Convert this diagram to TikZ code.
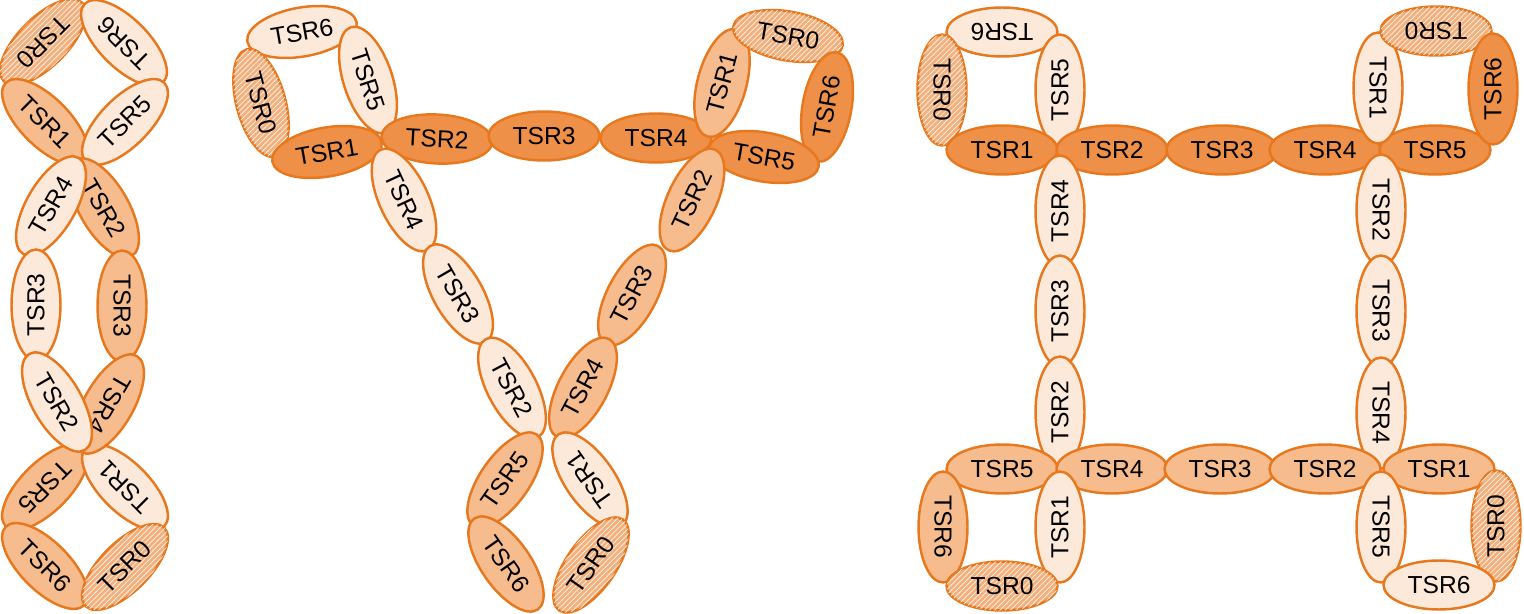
\documentclass[tikz,border=0pt]{standalone}
\usepackage{fontspec}
\setmainfont{Liberation Sans}
\usetikzlibrary{shapes.geometric,patterns}
\definecolor{lt}{HTML}{FCE9DA}
\definecolor{md}{HTML}{F6BC8E}
\definecolor{dk}{HTML}{EE9048}
\definecolor{ln}{HTML}{E8781E}
\definecolor{ht}{HTML}{F4B07C}
\tikzset{
  tsrbase/.style={ellipse, draw=ln, line width=1.4pt, minimum width=2.22cm, minimum height=0.98cm, inner sep=0pt, font=\fontsize{14}{16}\selectfont},
  lo/.style={tsrbase, fill=lt},
  me/.style={tsrbase, fill=md},
  da/.style={tsrbase, fill=dk},
  ha/.style={tsrbase, fill=ht, postaction={pattern=north east lines, pattern color=white!85!ht}},
}
\newcommand\tsr[6]{\node[#5,rotate=#4] (#1) at (#2,#3) {#6};}
\begin{document}
\begin{tikzpicture}[x=0.02cm,y=-0.02cm]
\useasboundingbox (0,0) rectangle (1524,614);
% left panel
\tsr{a0}{43}{42}{225}{ha}{TSR0}
\tsr{a6}{124}{43}{135}{lo}{TSR6}
\tsr{a1}{45}{122}{-45}{me}{TSR1}
\tsr{a5}{125}{122}{45}{lo}{TSR5}
\tsr{a2}{104}{208}{-60}{me}{TSR2}
\tsr{a4}{51}{206}{60}{lo}{TSR4}
\tsr{a3}{36}{305}{90}{lo}{TSR3}
\tsr{a3b}{122}{306}{-90}{me}{TSR3}
\tsr{a5b}{45}{487}{225}{me}{TSR5}
\tsr{a1b}{125}{487}{135}{lo}{TSR1}
\tsr{a6b}{45}{566}{-45}{me}{TSR6}
\tsr{a0b}{125}{567}{45}{ha}{TSR0}
\tsr{a4b}{109}{404}{240}{me}{TSR4}
\tsr{a2b}{57}{402}{-60}{lo}{TSR2}
% middle panel
\tsr{b6}{302}{32}{10}{lo}{TSR6}
\tsr{b0}{261}{103}{-75}{ha}{TSR0}
\tsr{b5}{368}{80}{-72}{lo}{TSR5}
\tsr{b1}{327}{152}{10}{da}{TSR1}
\tsr{b2}{437}{139}{-3}{da}{TSR2}
\tsr{b3}{544}{136}{0}{da}{TSR3}
\tsr{b4}{656}{138}{0}{da}{TSR4}
\tsr{b1r}{722}{83}{75}{me}{TSR1}
\tsr{b0r}{788}{36}{-10}{ha}{TSR0}
\tsr{b6r}{827}{107}{80}{da}{TSR6}
\tsr{b5r}{764}{157}{-10}{da}{TSR5}
\tsr{b4l}{404}{200}{-65}{lo}{TSR4}
\tsr{b3l}{458}{294}{-60}{lo}{TSR3}
\tsr{b2l}{512}{388}{-62}{lo}{TSR2}
\tsr{b2r}{692}{200}{65}{me}{TSR2}
\tsr{b3r}{632}{295}{62}{me}{TSR3}
\tsr{b4r}{583}{388}{62}{me}{TSR4}
\tsr{b5b}{505}{480}{55}{me}{TSR5}
\tsr{b1b}{590}{480}{125}{lo}{TSR1}
\tsr{b6b}{506}{564}{-55}{me}{TSR6}
\tsr{b0b}{591}{565}{55}{ha}{TSR0}
% right panel
\tsr{c6}{1002}{32}{180}{lo}{TSR6}
\tsr{c0}{942}{90}{-90}{ha}{TSR0}
\tsr{c5}{1060}{90}{90}{lo}{TSR5}
\tsr{c1}{1002}{150}{0}{da}{TSR1}
\tsr{c2}{1112}{150}{0}{da}{TSR2}
\tsr{c3}{1222}{150}{0}{da}{TSR3}
\tsr{c4}{1325}{150}{0}{da}{TSR4}
\tsr{c5r}{1435}{150}{0}{da}{TSR5}
\tsr{c1r}{1378}{88}{-90}{lo}{TSR1}
\tsr{c0r}{1436}{31}{180}{ha}{TSR0}
\tsr{c6r}{1493}{89}{90}{da}{TSR6}
\tsr{c4l}{1060}{211}{90}{lo}{TSR4}
\tsr{c3l}{1060}{311}{90}{lo}{TSR3}
\tsr{c2l}{1060}{412}{90}{lo}{TSR2}
\tsr{c2r}{1381}{210}{-90}{lo}{TSR2}
\tsr{c3r}{1381}{311}{-90}{lo}{TSR3}
\tsr{c4r}{1381}{413}{-90}{lo}{TSR4}
\tsr{c5b}{1002}{469}{0}{me}{TSR5}
\tsr{c4b}{1112}{469}{0}{me}{TSR4}
\tsr{c3b}{1220}{469}{0}{me}{TSR3}
\tsr{c2b}{1325}{469}{0}{me}{TSR2}
\tsr{c1b}{1439}{469}{0}{me}{TSR1}
\tsr{c6b}{943}{527}{-90}{me}{TSR6}
\tsr{c1l}{1060}{527}{90}{lo}{TSR1}
\tsr{c0b}{1002}{586}{0}{ha}{TSR0}
\tsr{c5rb}{1381}{527}{-90}{lo}{TSR5}
\tsr{c0rb}{1496}{526}{90}{ha}{TSR0}
\tsr{c6rb}{1439}{585}{0}{lo}{TSR6}
\end{tikzpicture}
\end{document}
